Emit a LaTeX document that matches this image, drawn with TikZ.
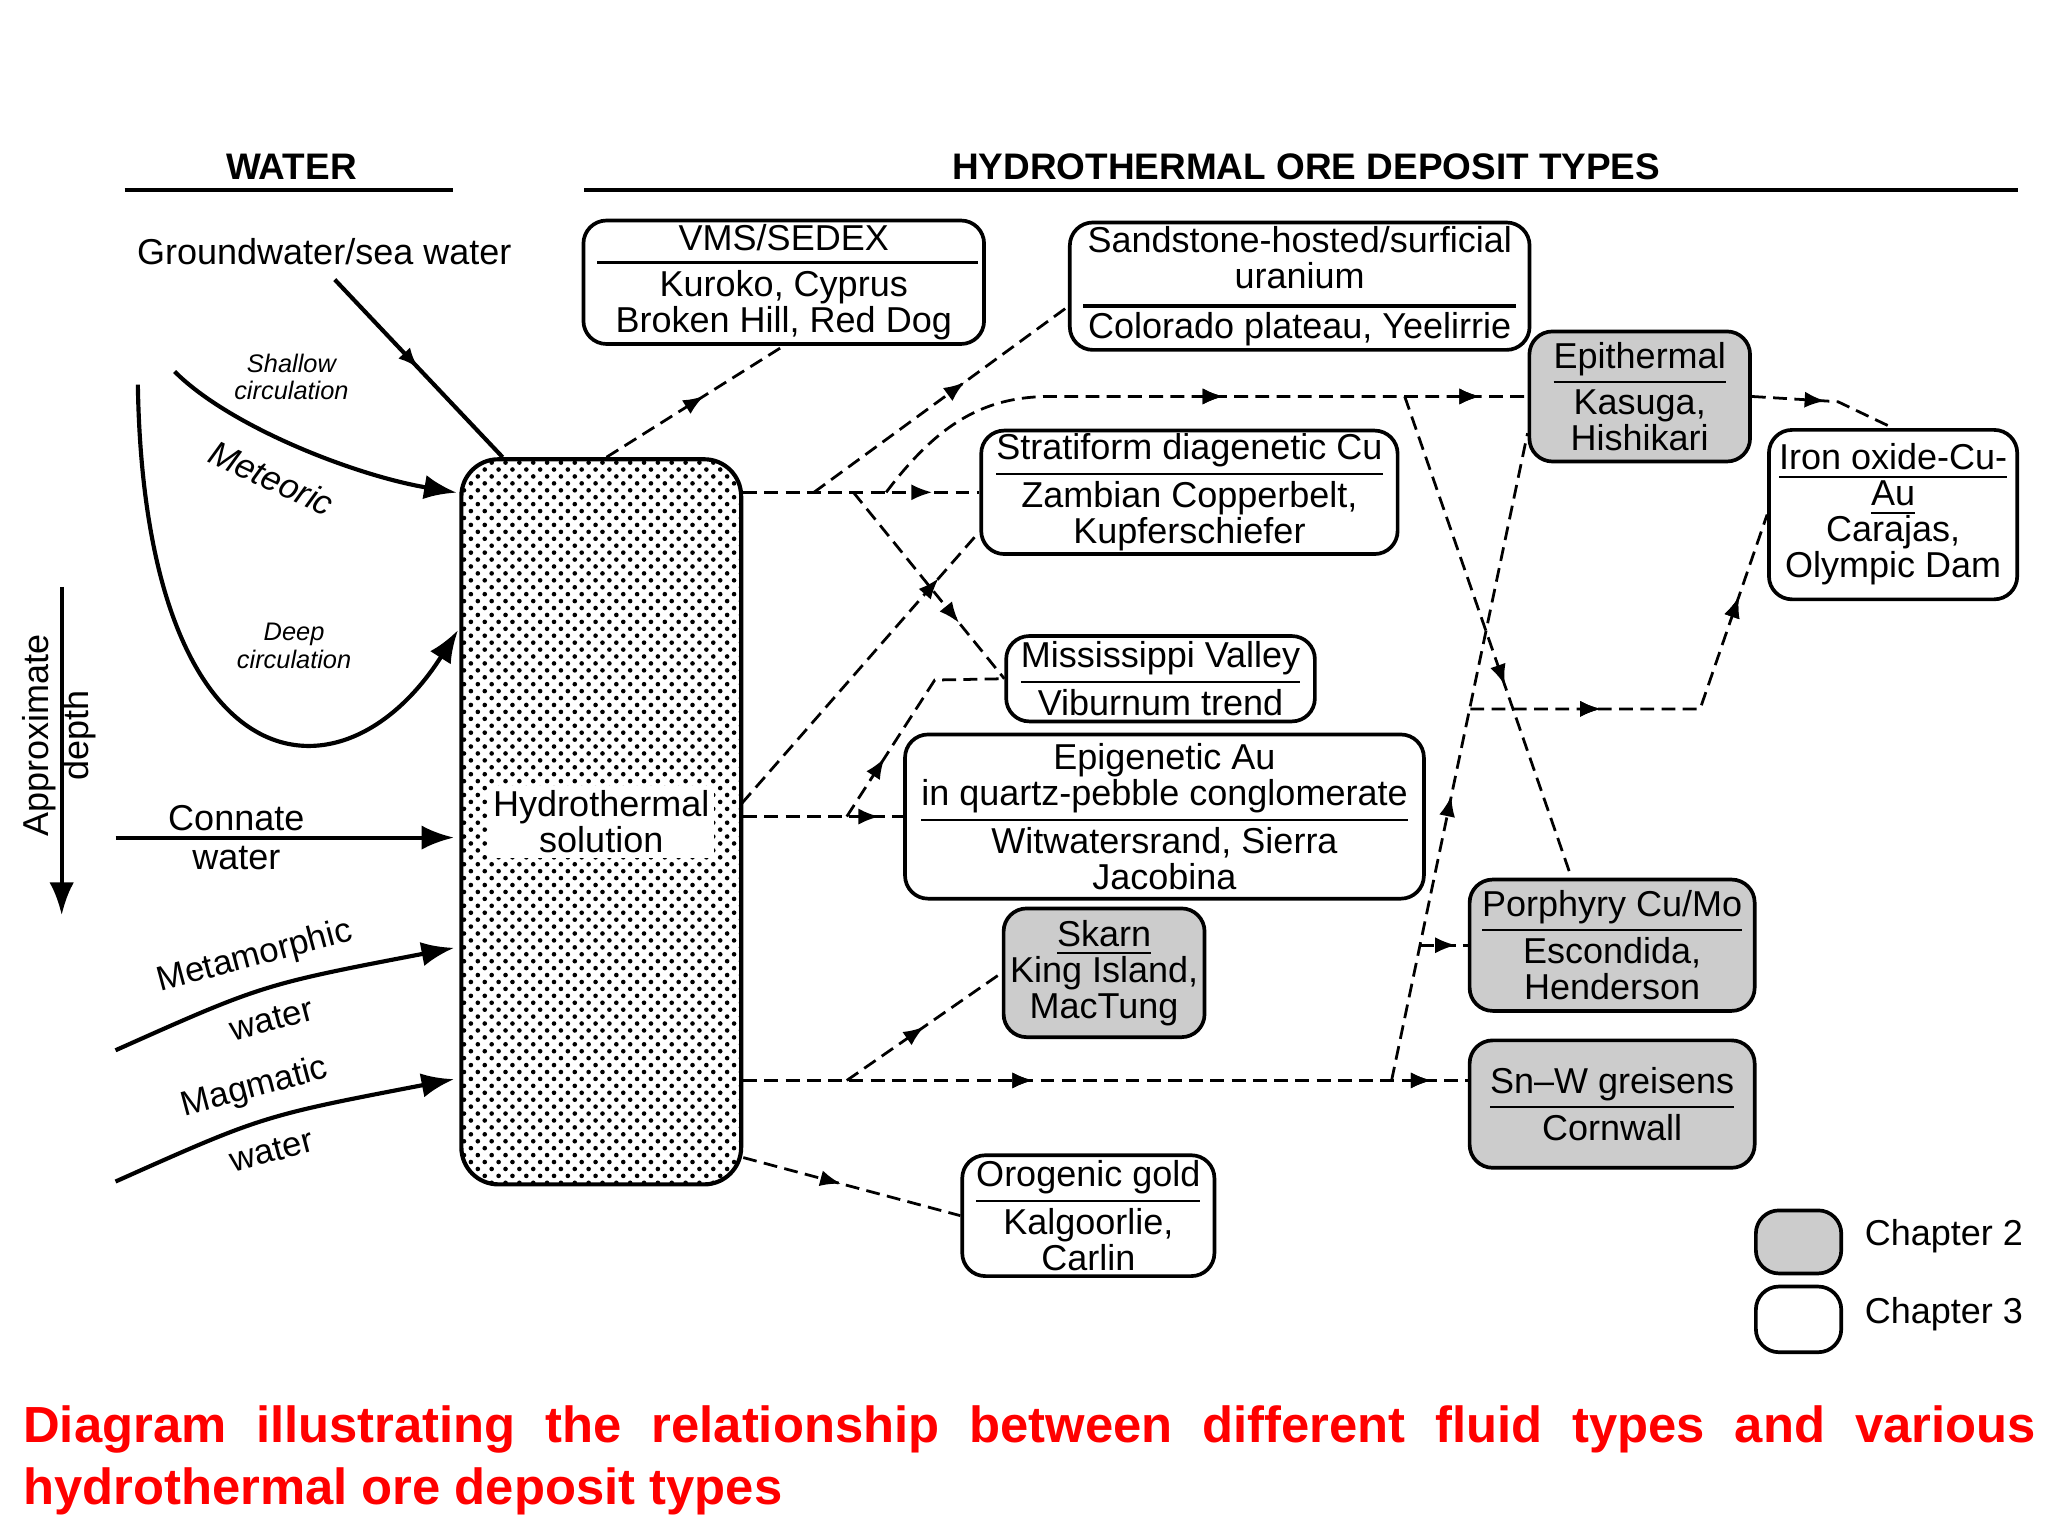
\documentclass[tikz,border=0pt]{standalone}
\usepackage{fontspec}
\setmainfont{Liberation Sans}
\usetikzlibrary{arrows.meta,calc,patterns,decorations.markings}
\tikzset{>=Latex}

\tikzset{
	box/.style={draw, rounded corners=5pt, line width=0.8pt, align=center, inner sep=0pt, font=\fontsize{7.8pt}{7.8pt}\selectfont},
	gbox/.style={box, fill=black!20},
	dline/.style={dash pattern=on 3pt off 1.6pt, line width=0.6pt},
	mid/.style={postaction={decorate}, decoration={markings, mark=at position #1 with {\arrow{Latex[length=4.5pt,width=3.5pt]}}}},
	wline/.style={line width=0.9pt},
	head/.style={font=\bfseries\fontsize{8pt}{9pt}\selectfont}
}

\begin{document}
\begin{tikzpicture}[x=0.01cm, y=-0.01cm]
	\useasboundingbox (0,0) rectangle (1560,1170);
	% headers
	\node[head] (hwater) at (222,127) {WATER};
	\node[head] (hdep) at (995,127) {HYDROTHERMAL ORE DEPOSIT TYPES};
	\draw[line width=0.9pt] (95,145) -- (345,145);
	\draw[line width=0.9pt] (445,145) -- (1537,145);

	% hydrothermal solution
	\node[draw, rounded corners=8pt, line width=0.9pt, pattern=crosshatch dots, minimum width=2.13cm, minimum height=5.52cm] (hydro) at (458,626) {};
	\node[fill=white, align=center, inner sep=1pt, font=\fontsize{7.8pt}{7.8pt}\selectfont] (hlabel) at (458,626) {Hydrothermal\\solution};

	% deposit types
	\node[box, minimum width=3.05cm, minimum height=0.94cm] (vms) at (597,215) {VMS/SEDEX\\[2pt]Kuroko, Cyprus\\Broken Hill, Red Dog};
	\node[box, minimum width=3.5cm, minimum height=0.97cm] (sand) at (990,218) {Sandstone-hosted/surficial\\uranium\\[3pt]Colorado plateau, Yeelirrie};
	\node[gbox, minimum width=1.68cm, minimum height=0.99cm] (epi) at (1249,302) {\underline{Epithermal}\\Kasuga,\\Hishikari};
	\node[box, minimum width=3.17cm, minimum height=0.94cm] (strat) at (906,375) {\underline{Stratiform diagenetic Cu}\\Zambian Copperbelt,\\Kupferschiefer};
	\node[box, minimum width=1.89cm, minimum height=1.29cm] (iron) at (1442,392) {\underline{Iron oxide-Cu-}\\\underline{Au}\\Carajas,\\Olympic Dam};
	\node[box, minimum width=2.35cm, minimum height=0.65cm] (miss) at (884,517) {\underline{Mississippi Valley}\\Viburnum trend};
	\node[box, minimum width=3.95cm, minimum height=1.25cm] (epig) at (887,622) {Epigenetic Au\\\underline{in quartz-pebble conglomerate}\\Witwatersrand, Sierra\\Jacobina};
	\node[gbox, minimum width=1.53cm, minimum height=0.98cm] (skarn) at (841,741) {\underline{Skarn}\\King Island,\\MacTung};
	\node[gbox, minimum width=2.17cm, minimum height=1cm] (porph) at (1228,720) {\underline{Porphyry Cu/Mo}\\Escondida,\\Henderson};
	\node[gbox, minimum width=2.17cm, minimum height=0.97cm] (snw) at (1228,841) {\underline{Sn--W greisens}\\Cornwall};
	\node[box, minimum width=1.92cm, minimum height=0.92cm] (orog) at (829,926) {\underline{Orogenic gold}\\Kalgoorlie,\\Carlin};
	\draw[line width=0.7pt] ($(vms.center)+(-142,-15)$) -- ($(vms.center)+(148,-15)$);
	\draw[line width=0.7pt] ($(sand.center)+(-165,15)$) -- ($(sand.center)+(165,15)$);

	% legend
	\node[gbox, minimum width=0.65cm, minimum height=0.48cm] (leg2) at (1370,946) {};
	\node[box, minimum width=0.65cm, minimum height=0.5cm] (leg3) at (1370,1005) {};
	\node[anchor=west, font=\fontsize{7.8pt}{9pt}\selectfont] (leg2t) at (1408,942) {Chapter 2};
	\node[anchor=west, font=\fontsize{7.8pt}{9pt}\selectfont] (leg3t) at (1408,1001) {Chapter 3};

	% water sources
	\node[font=\fontsize{7.8pt}{9pt}\selectfont] (gw) at (247,192) {Groundwater/sea water};
	\coordinate (gws) at (255,213);
	\coordinate (gwe) at ($(hydro.north west)+(33,0)$);
	\draw[wline, mid=0.5] (gws) -- (gwe);
	\coordinate (sh0) at (133,283);
	\draw[wline, ->] (sh0) .. controls (175,325) and (270,362) .. ($(hydro.north west)+(-2,27)$);
	\node[font=\itshape\fontsize{5.5pt}{6pt}\selectfont, align=center] (shl) at (222,287) {Shallow\\circulation};
	\node[font=\itshape\fontsize{7.5pt}{9pt}\selectfont, rotate=-25] (met) at (207,364) {Meteoric};
	\coordinate (dp0) at (105,293);
	\draw[wline, ->] (dp0) .. controls (110,600) and (260,620) .. ($(hydro.west)+(-1,-146)$);
	\node[font=\itshape\fontsize{5.5pt}{6pt}\selectfont, align=center] (dpl) at (224,492) {Deep\\circulation};
	\coordinate (cn0) at (88,638);
	\draw[wline, ->] (cn0) -- ($(hydro.west)+(-4,12)$);
	\node[font=\fontsize{7.8pt}{8.6pt}\selectfont, align=center] (cnl) at (180,638) {Connate\\water};
	\coordinate (mt0) at (88,800);
	\draw[wline, ->] (mt0) .. controls (200,750) .. ($(hydro.west)+(-4,96)$);
	\node[font=\fontsize{7.5pt}{7.5pt}\selectfont, align=center, rotate=15] (mtl) at (200,751) {Metamorphic\\[7pt]water};
	\coordinate (mg0) at (88,900);
	\draw[wline, ->] (mg0) .. controls (200,850) .. ($(hydro.west)+(-4,196)$);
	\node[font=\fontsize{7.5pt}{7.5pt}\selectfont, align=center, rotate=15] (mgl) at (200,851) {Magmatic\\[7pt]water};
	\node[font=\fontsize{7.8pt}{8.6pt}\selectfont, align=center, rotate=90] (depth) at (45,560) {Approximate\\depth};
	\coordinate (d0) at (47,447);
	\coordinate (d1) at (47,697);
	\draw[wline, ->] (d0) -- (d1);

	% junctions
	\coordinate (j1) at (620,375);
	\coordinate (j2) at (650,375);
	\coordinate (j3) at (675,375);
	\coordinate (t1) at (800,302);
	\coordinate (j4) at (1070,302);
	\coordinate (e1) at (1400,306);
	\coordinate (j5) at (565,612);
	\coordinate (j6) at (645,622);
	\coordinate (m1) at (712,518);
	\coordinate (snwin) at ($(snw.west)+(0,-18)$);
	\coordinate (j7) at (645,823);
	\coordinate (j8) at (1060,823);
	\coordinate (j9) at (1082,720);
	\coordinate (j10) at (1120,540);
	\coordinate (i1) at (1295,540);

	% connectors
	\draw[dline, mid=0.55] ($(hydro.north)+(4,0)$) -- (vms.south);
	\draw[dline, mid=0.8] (hydro.east |- strat.west) -- (strat.west);
	\draw[dline, mid=0.6] (j1) -- ($(sand.west)+(-2,17)$);
	\draw[dline, mid=0.7] (j2) -- (miss.west);
	\draw[dline, mid=0.55, mid=0.93] (j3) .. controls (715,322) and (750,302) .. (t1) -- (epi.west);
	\draw[dline, mid=0.5] (epi.east) -- (e1) -- (iron.north);
	\draw[dline, mid=0.6] (j4) -- ($(porph.north)+(-31,0)$);
	\draw[dline, mid=0.83] (j5) -- ($(strat.west)+(0,30)$);
	\draw[dline, mid=0.85] (hydro.east |- epig.west) -- (epig.west);
	\draw[dline, mid=0.3] (j6) -- (m1) -- (miss.west);
	\draw[dline, mid=0.4, mid=0.95] (hydro.east |- snwin) -- (snwin);
	\draw[dline, mid=0.5] (j7) -- (skarn.west);
	\draw[dline, mid=0.44] (j8) -- ($(epi.west)+(0,28)$);
	\draw[dline, mid=0.75] (j9) -- (porph.west);
	\draw[dline, mid=0.3, mid=0.8] (j10) -- (i1) -- (iron.west);
	\draw[dline, mid=0.45] ($(hydro.south east)+(0,-22)$) -- (orog.west);

	% caption
	\node[text width=15.32cm, align=justify, text=red, font=\bfseries\fontsize{11pt}{13.5pt}\selectfont, anchor=north west, inner sep=0pt] (cap) at (17,1070) {Diagram illustrating the relationship between different fluid types and various\linebreak hydrothermal ore deposit types};
\end{tikzpicture}
\end{document}
